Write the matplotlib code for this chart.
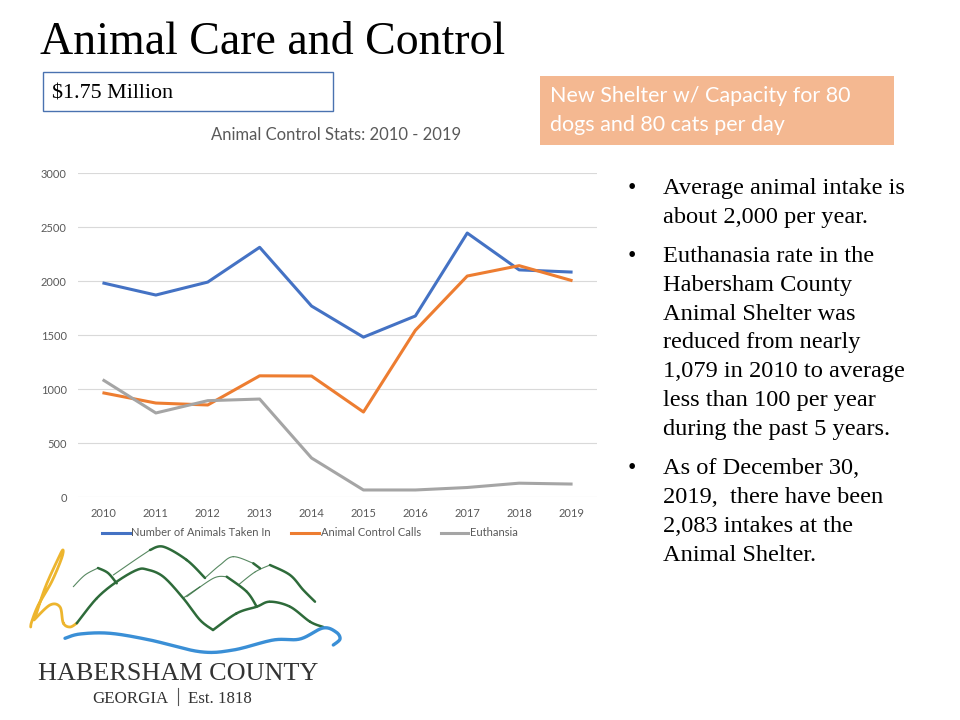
"""Recreate the 'Animal Care and Control' slide with its line chart."""

import matplotlib
matplotlib.use("Agg")
import matplotlib.pyplot as plt
import numpy as np
from matplotlib.patches import Rectangle

# Chart data
years = ["2010", "2011", "2012", "2013", "2014", "2015", "2016", "2017", "2018", "2019"]
animals_taken_in = [1980, 1870, 1990, 2312, 1768, 1480, 1676, 2444, 2103, 2083]
control_calls = [963, 870, 852, 1122, 1120, 787, 1543, 2046, 2142, 2006]
euthanasia = [1079, 778, 892, 907, 361, 65, 65, 88, 128, 120]
y_ticks = [0, 500, 1000, 1500, 2000, 2500, 3000]

series_names = ["Number of Animals Taken In", "Animal Control Calls", "Euthansia"]
series_colors = ["#4472C4", "#ED7D31", "#A5A5A5"]

bullets = [
    ["Average animal intake is", "about 2,000 per year."],
    ["Euthanasia rate in the", "Habersham County", "Animal Shelter was",
     "reduced from nearly", "1,079 in 2010 to average", "less than 100 per year",
     "during the past 5 years."],
    ["As of December 30,", "2019,  there have been", "2,083 intakes at the",
     "Animal Shelter."],
]

SERIF = "Liberation Serif"
SANS = "Lato"
W, H = 960, 720


def smooth(pts, n=20):
    """Catmull-Rom curve through a list of (x, y) pixel points."""
    p = np.asarray(pts, dtype=float)
    p = np.vstack([p[0], p, p[-1]])
    out = []
    for i in range(1, len(p) - 2):
        p0, p1, p2, p3 = p[i - 1], p[i], p[i + 1], p[i + 2]
        t = np.linspace(0, 1, n)[:, None]
        seg = 0.5 * ((2 * p1) + (-p0 + p2) * t + (2 * p0 - 5 * p1 + 4 * p2 - p3) * t ** 2
                     + (-p0 + 3 * p1 - 3 * p2 + p3) * t ** 3)
        out.append(seg)
    return np.vstack(out)


fig = plt.figure(figsize=(9.6, 7.2), dpi=100)
fig.patch.set_facecolor("white")

# Overlay in pixel coordinates for the slide elements
bg = fig.add_axes([0, 0, 1, 1])
bg.set_xlim(0, W)
bg.set_ylim(H, 0)
bg.axis("off")

bg.text(40, 54, "Animal Care and Control", family=SERIF, fontsize=33,
        color="black", va="baseline", ha="left")

bg.add_patch(Rectangle((43, 72), 290, 39, fill=False, edgecolor="#4A72B0", linewidth=1.0))
bg.text(52, 99, "$1.75 Million", family=SERIF, fontsize=15.8, color="black", va="baseline")

bg.add_patch(Rectangle((540, 76), 354, 69, facecolor="#F4B891", edgecolor="none"))
bg.text(550, 102, "New Shelter w/ Capacity for 80", family=SANS, fontsize=15.5,
        color="white", va="baseline")
bg.text(550, 131, "dogs and 80 cats per day", family=SANS, fontsize=15.5,
        color="white", va="baseline")

# Bullet list
y = 194
for para in bullets:
    bg.text(628, y, "\u2022", family=SERIF, fontsize=17, color="black", va="baseline")
    for line in para:
        bg.text(663, y, line, family=SERIF, fontsize=17.6, color="black", va="baseline")
        y += 28.9
    y += 10

# Chart title
bg.text(336, 135, "Animal Control Stats: 2010 - 2019", family=SANS, fontsize=12,
        color="#595959", ha="center", va="center")

# Logo (approximate drawing)
h_loop = [(35, 618), (45, 588), (56.7, 561.7), (62.7, 550), (61.7, 558),
          (51.7, 581.7), (38.3, 605), (31.7, 621.7), (30.7, 627)]
h_arch = [(34, 620), (50, 605), (60, 607), (63.3, 623), (70, 627), (77, 623)]
for pts in (h_loop, h_arch):
    c = smooth(pts)
    bg.plot(c[:, 0], c[:, 1], color="#EDB52E", linewidth=2.0, solid_capstyle="round")

green = "#2E6B3A"
green_thick = [
    [(98, 568), (108, 573), (116.7, 583.3)],
    [(150, 550), (163.3, 546.7), (186.7, 560), (205, 578)],
    [(76.7, 623.3), (96.7, 598.3), (116.7, 581.7), (136.7, 570), (147, 569.5),
     (163.3, 576.7), (183.3, 598.3), (200, 620), (213, 630)],
    [(226.7, 576.7), (246.7, 591.7), (256.7, 606.7)],
    [(213, 630), (236.7, 613.3), (256.7, 606.7), (270, 601.7), (290, 606.7),
     (310, 621.7), (323.3, 627)],
    [(253.3, 563.3), (260, 568.3)],
    [(270, 565), (290, 575), (303.3, 590), (315, 601.7)],
]
green_thin = [
    [(73.3, 586.7), (85, 575), (98, 568)],
    [(113.3, 575), (135, 560), (150, 550)],
    [(183.3, 598), (200, 586.7)],
    [(186.7, 596.7), (213.3, 578.3), (226.7, 576.7)],
    [(205, 578), (220, 565), (233.3, 556.7), (253.3, 563.3)],
    [(238.3, 585), (255, 572), (270, 565)],
]
for pts in green_thick:
    c = smooth(pts)
    bg.plot(c[:, 0], c[:, 1], color=green, linewidth=1.8, solid_capstyle="round")
for pts in green_thin:
    c = smooth(pts)
    bg.plot(c[:, 0], c[:, 1], color=green, linewidth=0.8, alpha=0.8, solid_capstyle="round")

river = [(65, 638.3), (80, 634), (110, 633.3), (150, 640), (200, 651.7), (233.3, 650),
         (273.3, 640), (300, 639), (323, 628), (336, 632), (340, 639), (333.3, 645)]
c = smooth(river)
bg.plot(c[:, 0], c[:, 1], color="#3A8FD6", linewidth=2.4, solid_capstyle="round")

bg.text(38, 680, "HABERSHAM COUNTY", family=SERIF, fontsize=18.8, color="#333333",
        va="baseline")
bg.text(92, 703, "GEORGIA", family=SERIF, fontsize=12.2, color="#333333", va="baseline")
bg.plot([178, 178], [688, 705], color="#555555", linewidth=0.8)
bg.text(188, 703, "Est. 1818", family=SERIF, fontsize=12.2, color="#333333", va="baseline")

# Line chart
ax = fig.add_axes([78 / W, 1 - 497 / H, (597 - 78) / W, (497 - 173) / H])
ax.set_facecolor("none")
x = np.arange(len(years))
for vals, name, col in zip([animals_taken_in, control_calls, euthanasia],
                           series_names, series_colors):
    ax.plot(x, vals, color=col, linewidth=2.2, label=name, solid_joinstyle="round")

ax.set_xlim(-0.5, len(years) - 0.5)
ax.set_ylim(0, 3000)
ax.set_yticks(y_ticks)
ax.set_xticks(x)
ax.set_xticklabels(years)
ax.grid(True, axis="y", color="#D9D9D9", linewidth=0.8)
ax.set_axisbelow(True)
for s in ax.spines.values():
    s.set_visible(False)
ax.tick_params(length=0, labelsize=8, labelcolor="#595959", pad=8)
for lbl in ax.get_xticklabels() + ax.get_yticklabels():
    lbl.set_family(SANS)

fig.legend(loc="center", bbox_to_anchor=(310 / W, 1 - 533 / H), ncol=3, frameon=False,
           prop={"family": SANS, "size": 8}, labelcolor="#595959",
           handlelength=2.5, handletextpad=0.15, columnspacing=1.8)

plt.savefig("out.png", dpi=100)
plt.close()
